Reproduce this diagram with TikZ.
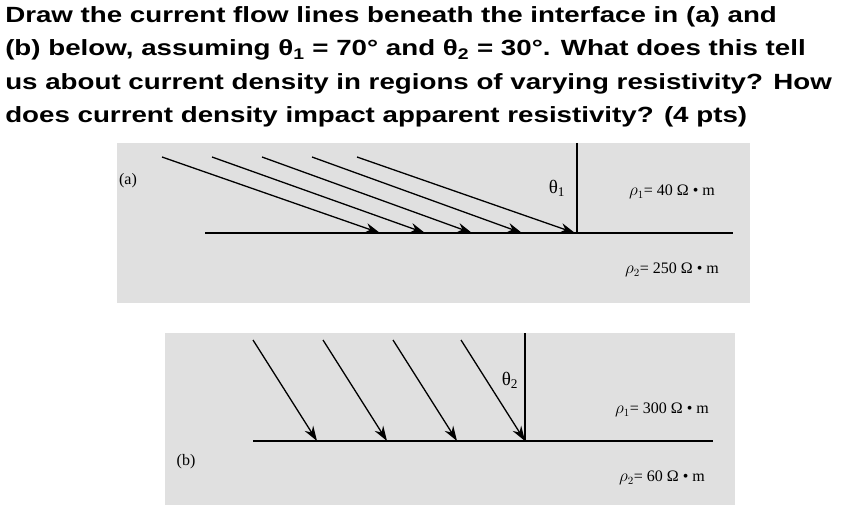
\documentclass[tikz,border=0pt]{standalone}
\usepackage{fontspec}
\setmainfont{Liberation Sans}
\newfontfamily\serifx{Liberation Serif}
\usetikzlibrary{arrows.meta}
\begin{document}
\begin{tikzpicture}[x=1pt,y=-1pt,
  panel/.style={fill=black!12,draw=none},
  flow/.style={line width=1.3pt,-{Stealth[length=15pt,width=10pt]}},
  iface/.style={line width=1.5pt},
  lbl/.style={font=\serifx\fontsize{16}{16}\selectfont,inner sep=0pt},
  ttl/.style={font=\bfseries\fontsize{22}{22}\selectfont,anchor=west,inner sep=0pt,xscale=1.26}]
\useasboundingbox (0,0) rectangle (857,508);
\fill[white] (0,0) rectangle (857,508);
\node[ttl] (t1) at (5,17) {Draw the current flow lines beneath the interface in (a) and};
\node[ttl] (t2) at (5,50) {(b) below, assuming θ\textsubscript{1} = 70° and θ\textsubscript{2} = 30°. What does this tell};
\node[ttl] (t3) at (5,84) {us about current density in regions of varying resistivity? How};
\node[ttl] (t4) at (5,117) {does current density impact apparent resistivity? (4 pts)};
% panel a
\path[panel] (117,143) rectangle (750,303);
\coordinate (aL) at (205,233); \coordinate (aR) at (733,233);
\draw[iface] (aL) -- (aR);
\coordinate (aT) at (577,143); \coordinate (aB) at (577,233);
\draw[iface] (aT) -- (aB);
\foreach \i/\sx/\ex in {1/162/380,2/212/425,3/262/472,4/312/522,5/357/575}{
  \coordinate (as\i) at (\sx,157); \coordinate (ae\i) at (\ex,233);
  \draw[flow] (as\i) -- (ae\i);}
\node[lbl] (la) at (128,181) {(a)};
\node[lbl,font=\serifx\fontsize{19}{19}\selectfont] (th1) at (557,188) {θ\textsubscript{1}};
\node[lbl] (r1a) at (672,192) {$\rho_1$= 40 Ω • m};
\node[lbl] (r2a) at (672,270) {$\rho_2$= 250 Ω • m};
% panel b
\path[panel] (165,333) rectangle (735,505);
\coordinate (bL) at (253,441); \coordinate (bR) at (713,441);
\draw[iface] (bL) -- (bR);
\coordinate (bT) at (525,333); \coordinate (bB) at (525,441);
\draw[iface] (bT) -- (bB);
\foreach \i/\sx/\ex in {1/253/317,2/323/387,3/393/457,4/461/525}{
  \coordinate (bs\i) at (\sx,340); \coordinate (be\i) at (\ex,441);
  \draw[flow] (bs\i) -- (be\i);}
\node[lbl] (lb) at (186,462) {(b)};
\node[lbl,font=\serifx\fontsize{19}{19}\selectfont] (th2) at (510,380) {θ\textsubscript{2}};
\node[lbl] (r1b) at (662,410) {$\rho_1$= 300 Ω • m};
\node[lbl] (r2b) at (662,478) {$\rho_2$= 60 Ω • m};
\end{tikzpicture}
\end{document}
